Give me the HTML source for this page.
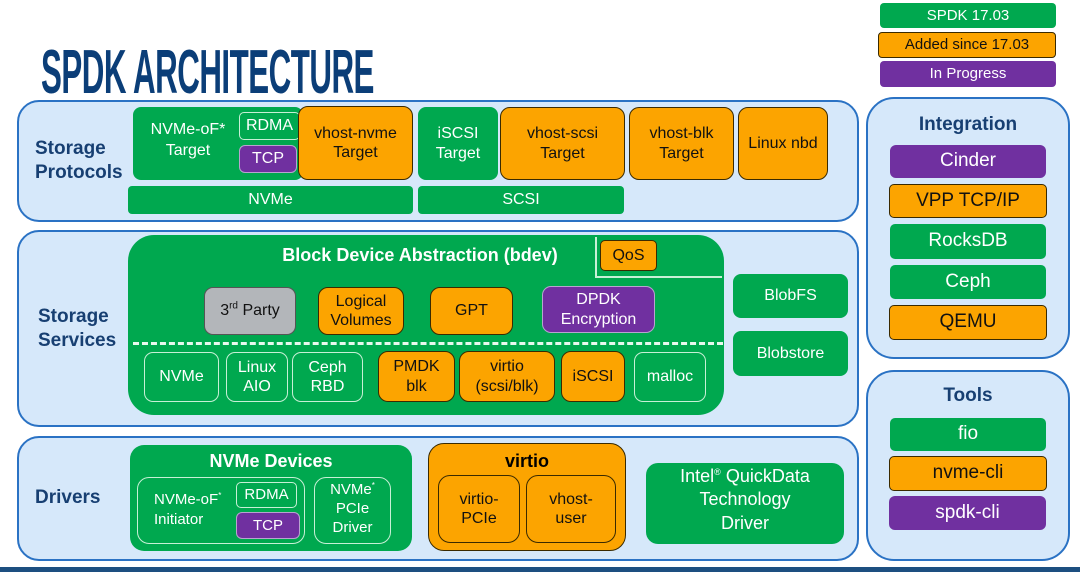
<!DOCTYPE html>
<html><head><meta charset="utf-8"><style>
*{box-sizing:border-box;margin:0;padding:0}
body{width:1080px;height:572px;background:#fff;position:relative;overflow:hidden;font-family:"Liberation Sans",sans-serif}
div{position:absolute}
.b{display:flex;align-items:center;justify-content:center;text-align:center;line-height:1.2;font-size:16px}
.g{background:#00a84f;color:#fff;border-radius:8px}
.o{background:#fca400;color:#111;border:1.5px solid #3a2a00;border-radius:10px}
.p{background:#7030a0;color:#fff;border:1.5px solid #b9a3d0;border-radius:6px}
.ol{border:1.5px solid #c7f0d6;color:#fff;border-radius:9px}
.pan{background:#d6e8fa;border:2.5px solid #2a72c4;border-radius:22px}
.lbl{color:#173f72;font-weight:bold;font-size:19px;line-height:1.25}
.ttl{font-weight:bold;font-size:19px;color:#173f72;text-align:center}
sup{line-height:0}
</style></head><body>
<div style="left:41px;top:44px;font-size:62px;font-weight:bold;color:#0b3e78;letter-spacing:-1px;transform:scaleX(0.505);transform-origin:left top;white-space:nowrap;line-height:58px">SPDK ARCHITECTURE</div>

<div class="b g" style="left:880px;top:3px;width:176px;height:25px;font-size:15px;border-radius:4px">SPDK 17.03</div>
<div class="b o" style="left:878px;top:32px;width:178px;height:26px;font-size:15px;border-radius:4px">Added since 17.03</div>
<div class="b p" style="left:880px;top:61px;width:176px;height:26px;font-size:15px;border-radius:4px;border:none">In Progress</div>

<!-- Storage Protocols -->
<div class="pan" style="left:17px;top:100px;width:842px;height:122px"></div>
<div class="lbl" style="left:35px;top:137px">Storage<br>Protocols</div>
<div class="g" style="left:133px;top:107px;width:170px;height:73px"></div>
<div class="b" style="left:138px;top:120px;width:100px;color:#fff;line-height:1.3">NVMe-oF*<br>Target</div>
<div class="b ol" style="left:239px;top:112px;width:61px;height:28px;border-radius:5px">RDMA</div>
<div class="b p" style="left:239px;top:145px;width:58px;height:28px">TCP</div>
<div class="b o" style="left:298px;top:106px;width:115px;height:74px">vhost-nvme<br>Target</div>
<div class="b g" style="left:418px;top:107px;width:80px;height:73px">iSCSI<br>Target</div>
<div class="b o" style="left:500px;top:107px;width:125px;height:73px">vhost-scsi<br>Target</div>
<div class="b o" style="left:629px;top:107px;width:105px;height:73px">vhost-blk<br>Target</div>
<div class="b o" style="left:738px;top:107px;width:90px;height:73px">Linux nbd</div>
<div class="b g" style="left:128px;top:186px;width:285px;height:28px;border-radius:4px">NVMe</div>
<div class="b g" style="left:418px;top:186px;width:206px;height:28px;border-radius:4px">SCSI</div>

<!-- Storage Services -->
<div class="pan" style="left:17px;top:230px;width:842px;height:197px"></div>
<div class="lbl" style="left:38px;top:305px">Storage<br>Services</div>
<div class="g" style="left:128px;top:235px;width:596px;height:180px;border-radius:26px"></div>
<div style="left:595px;top:237px;width:2px;height:40px;background:#c7f0d6"></div>
<div style="left:595px;top:276px;width:127px;height:2px;background:#c7f0d6"></div>
<div class="b" style="left:250px;top:244px;width:340px;height:24px;color:#fff;font-weight:bold;font-size:18px">Block Device Abstraction (bdev)</div>
<div class="b o" style="left:600px;top:240px;width:57px;height:31px;border-radius:5px">QoS</div>
<div class="b" style="left:204px;top:287px;width:92px;height:48px;background:#b3b6ba;color:#111;border:1.5px solid #555;border-radius:9px"><span>3<sup style="font-size:10px">rd</sup> Party</span></div>
<div class="b o" style="left:318px;top:287px;width:86px;height:48px">Logical<br>Volumes</div>
<div class="b o" style="left:430px;top:287px;width:83px;height:48px">GPT</div>
<div class="b p" style="left:542px;top:286px;width:113px;height:47px;border-radius:9px">DPDK<br>Encryption</div>
<div style="left:133px;top:342px;width:590px;height:0;border-top:3px dashed #e8f8ee"></div>
<div class="b ol" style="left:144px;top:352px;width:75px;height:50px">NVMe</div>
<div class="b ol" style="left:226px;top:352px;width:62px;height:50px">Linux<br>AIO</div>
<div class="b ol" style="left:292px;top:352px;width:71px;height:50px">Ceph<br>RBD</div>
<div class="b o" style="left:378px;top:351px;width:77px;height:51px">PMDK<br>blk</div>
<div class="b o" style="left:459px;top:351px;width:96px;height:51px">virtio<br>(scsi/blk)</div>
<div class="b o" style="left:561px;top:351px;width:64px;height:51px">iSCSI</div>
<div class="b ol" style="left:634px;top:352px;width:72px;height:50px">malloc</div>
<div class="b g" style="left:733px;top:274px;width:115px;height:44px">BlobFS</div>
<div class="b g" style="left:733px;top:331px;width:115px;height:45px">Blobstore</div>

<!-- Drivers -->
<div class="pan" style="left:17px;top:436px;width:842px;height:125px"></div>
<div class="lbl" style="left:35px;top:486px">Drivers</div>
<div class="g" style="left:130px;top:445px;width:282px;height:106px;border-radius:14px"></div>
<div class="b" style="left:130px;top:450px;width:282px;height:24px;color:#fff;font-weight:bold;font-size:18px">NVMe Devices</div>
<div class="ol" style="left:137px;top:477px;width:168px;height:67px;border-radius:12px"></div>
<div style="left:154px;top:490px;width:90px;color:#fff;font-size:15px;line-height:1.3">NVMe-oF<sup style="font-size:8px">*</sup><br>Initiator</div>
<div class="b ol" style="left:236px;top:482px;width:61px;height:26px;border-radius:5px;font-size:15px">RDMA</div>
<div class="b p" style="left:236px;top:512px;width:64px;height:27px;font-size:15px">TCP</div>
<div class="ol" style="left:314px;top:477px;width:77px;height:67px;border-radius:12px;font-size:15px;text-align:center;line-height:1.25;padding-top:3px">NVMe<sup style="font-size:8px">*</sup><br>PCIe<br>Driver</div>
<div class="o" style="left:428px;top:443px;width:198px;height:108px;border-radius:16px"></div>
<div class="b" style="left:428px;top:450px;width:198px;height:24px;font-weight:bold;font-size:18px">virtio</div>
<div class="b o" style="left:438px;top:475px;width:82px;height:68px;border-radius:12px">virtio-<br>PCIe</div>
<div class="b o" style="left:526px;top:475px;width:90px;height:68px;border-radius:12px">vhost-<br>user</div>
<div class="g" style="left:646px;top:463px;width:198px;height:81px;font-size:18px;border-radius:12px;text-align:center;line-height:1.3;padding-top:2px">Intel<sup style="font-size:9px">®</sup> QuickData<br>Technology<br>Driver</div>

<!-- Integration -->
<div class="pan" style="left:866px;top:97px;width:204px;height:262px;border-radius:28px"></div>
<div class="ttl" style="left:866px;top:114px;width:204px">Integration</div>
<div class="b p" style="left:890px;top:145px;width:156px;height:33px;font-size:19px;border:none">Cinder</div>
<div class="b o" style="left:889px;top:184px;width:158px;height:34px;font-size:19px;border-radius:5px">VPP TCP/IP</div>
<div class="b g" style="left:890px;top:224px;width:156px;height:35px;font-size:19px;border-radius:5px">RocksDB</div>
<div class="b g" style="left:890px;top:265px;width:156px;height:34px;font-size:19px;border-radius:5px">Ceph</div>
<div class="b o" style="left:889px;top:305px;width:158px;height:35px;font-size:19px;border-radius:5px">QEMU</div>

<!-- Tools -->
<div class="pan" style="left:866px;top:370px;width:204px;height:191px;border-radius:28px"></div>
<div class="ttl" style="left:866px;top:385px;width:204px">Tools</div>
<div class="b g" style="left:890px;top:418px;width:156px;height:33px;font-size:19px;border-radius:5px">fio</div>
<div class="b o" style="left:889px;top:456px;width:158px;height:35px;font-size:19px;border-radius:5px">nvme-cli</div>
<div class="b p" style="left:889px;top:496px;width:157px;height:34px;font-size:19px;border:none">spdk-cli</div>

<div style="left:0;top:567px;width:1080px;height:5px;background:#1d4f80"></div>
</body></html>
